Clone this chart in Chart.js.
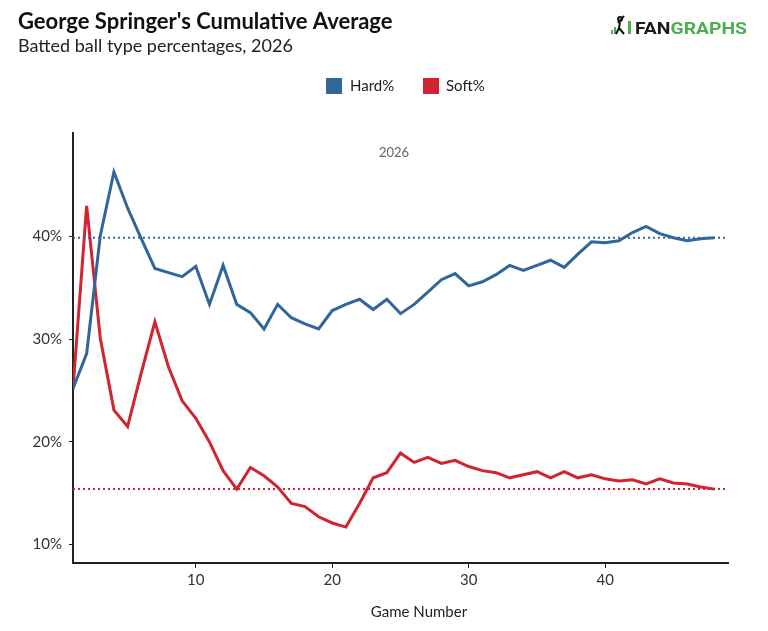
<!DOCTYPE html>
<html>
<head>
<meta charset="utf-8">
<script src="https://cdn.jsdelivr.net/npm/chart.js@4"></script>
<style>
  html, body { margin: 0; padding: 0; background: #fff; }
  #wrap { width: 768px; height: 631px; position: relative; }
</style>
</head>
<body>
<div id="wrap"><canvas id="chart" width="768" height="631"></canvas></div>
<script>
// game numbers and cumulative batted ball percentages
const games = [1,2,3,4,5,6,7,8,9,10,11,12,13,14,15,16,17,18,19,20,21,22,23,24,
  25,26,27,28,29,30,31,32,33,34,35,36,37,38,39,40,41,42,43,44,45,46,47,48];
const hardPct = [25.2,28.6,40.1,46.3,42.8,39.8,36.9,36.5,36.1,37.1,33.4,37.2,33.4,32.6,31.0,33.4,
  32.1,31.5,31.0,32.8,33.4,33.9,32.9,33.9,32.5,33.4,34.6,35.8,36.4,35.2,35.6,36.3,
  37.2,36.7,37.2,37.7,37.0,38.3,39.5,39.4,39.6,40.4,41.0,40.3,39.9,39.6,39.8,39.9];
const softPct = [25.2,43.0,30.1,23.1,21.5,26.7,31.7,27.3,24.0,22.3,20.0,17.2,15.4,17.5,16.7,15.6,
  14.0,13.7,12.7,12.1,11.7,14.0,16.5,17.0,18.9,18.0,18.5,17.9,18.2,17.6,17.2,17.0,
  16.5,16.8,17.1,16.5,17.1,16.5,16.8,16.4,16.2,16.3,15.9,16.4,16.0,15.9,15.6,15.4];
// season averages (dotted lines)
const hardAvg = 39.9;
const softAvg = 15.4;
const xTicks = [10, 20, 30, 40];
const yTicks = [10, 20, 30, 40];
const xRange = [1, 49];
const yRange = [8.2, 50.1];

const BLUE = '#31669b';
const RED = '#d22331';

function pts(vals) {
  return vals.map((v, i) => ({ x: games[i], y: v }));
}
function flat(v) {
  return [{ x: xRange[0], y: v }, { x: xRange[1], y: v }];
}

const header = {
  id: 'header',
  afterDraw(chart) {
    const ctx = chart.ctx;
    ctx.save();
    ctx.textBaseline = 'alphabetic';
    ctx.textAlign = 'left';
    ctx.fillStyle = '#111';
    ctx.font = 'bold 22px Lato';
    ctx.fillText("George Springer's Cumulative Average", 18, 29);
    ctx.fillStyle = '#222';
    ctx.font = '18px Lato';
    ctx.fillText('Batted ball type percentages, 2026', 18, 52);

    // legend
    ctx.font = '15px Lato';
    ctx.textBaseline = 'middle';
    ctx.fillStyle = BLUE;
    ctx.fillRect(326, 78, 16, 16);
    ctx.fillStyle = '#222';
    ctx.fillText('Hard%', 350, 86);
    ctx.fillStyle = RED;
    ctx.fillRect(423, 78, 16, 16);
    ctx.fillStyle = '#222';
    ctx.fillText('Soft%', 446, 86);

    // facet label + x axis title
    ctx.textAlign = 'center';
    ctx.fillStyle = '#666';
    ctx.font = '13px Lato';
    ctx.fillText('2026', 394, 153);
    ctx.fillStyle = '#222';
    ctx.font = '15px Lato';
    ctx.fillText('Game Number', 419, 612);

    // logo
    ctx.fillStyle = '#4caf50';
    ctx.fillRect(611, 30, 2, 4);
    ctx.fillRect(614, 27, 2, 7);
    ctx.fillRect(628, 21, 3, 13);
    ctx.strokeStyle = '#111';
    ctx.lineWidth = 2;
    ctx.beginPath();
    ctx.arc(620, 19, 2, 0, Math.PI * 2);
    ctx.moveTo(620, 22); ctx.lineTo(619, 28);
    ctx.moveTo(619, 28); ctx.lineTo(616, 34);
    ctx.moveTo(619, 28); ctx.lineTo(624, 34);
    ctx.moveTo(618, 23); ctx.lineTo(624, 16);
    ctx.stroke();
    ctx.textAlign = 'left';
    ctx.textBaseline = 'alphabetic';
    ctx.font = 'bold 17px Roboto';
    const full = ctx.measureText('FANGRAPHS').width;
    ctx.save();
    ctx.translate(635, 34);
    ctx.scale(112 / full, 1);
    ctx.fillStyle = '#1a1a1a';
    ctx.fillText('FAN', 0, 0);
    const w = ctx.measureText('FAN').width;
    ctx.fillStyle = '#4caf50';
    ctx.fillText('GRAPHS', w, 0);
    ctx.restore();
    ctx.restore();
  }
};

new Chart(document.getElementById('chart'), {
  type: 'line',
  data: {
    datasets: [
      { label: 'Hard% avg', data: flat(hardAvg), borderColor: BLUE, borderWidth: 2,
        borderDash: [2, 3], pointRadius: 0, fill: false },
      { label: 'Soft% avg', data: flat(softAvg), borderColor: RED, borderWidth: 2,
        borderDash: [2, 3], pointRadius: 0, fill: false },
      { label: 'Hard%', data: pts(hardPct), borderColor: BLUE, borderWidth: 3,
        pointRadius: 0, tension: 0, fill: false },
      { label: 'Soft%', data: pts(softPct), borderColor: RED, borderWidth: 3,
        pointRadius: 0, tension: 0, fill: false }
    ]
  },
  options: {
    responsive: false,
    animation: false,
    layout: { padding: { top: 133, right: 40, left: 0, bottom: 0 } },
    plugins: {
      legend: { display: false },
      title: { display: false },
      tooltip: { enabled: false }
    },
    scales: {
      x: {
        type: 'linear',
        min: xRange[0],
        max: xRange[1],
        afterBuildTicks: (s) => { s.ticks = xTicks.map(v => ({ value: v })); },
        afterFit: (s) => { s.height = 68; },
        grid: { drawOnChartArea: false, drawTicks: true, tickLength: 5, color: '#222', tickWidth: 1 },
        border: { color: '#222', width: 2 },
        ticks: { color: '#333', font: { family: 'Lato', size: 15 }, padding: 3, maxRotation: 0 }
      },
      y: {
        min: yRange[0],
        max: yRange[1],
        afterBuildTicks: (s) => { s.ticks = yTicks.map(v => ({ value: v })); },
        afterFit: (s) => { s.width = 73; },
        grid: { drawOnChartArea: false, drawTicks: true, tickLength: 4, color: '#222', tickWidth: 1 },
        border: { color: '#222', width: 2 },
        ticks: { color: '#333', font: { family: 'Lato', size: 15 }, padding: 7,
          callback: (v) => v + '%' }
      }
    }
  },
  plugins: [header]
});
</script>
</body>
</html>
